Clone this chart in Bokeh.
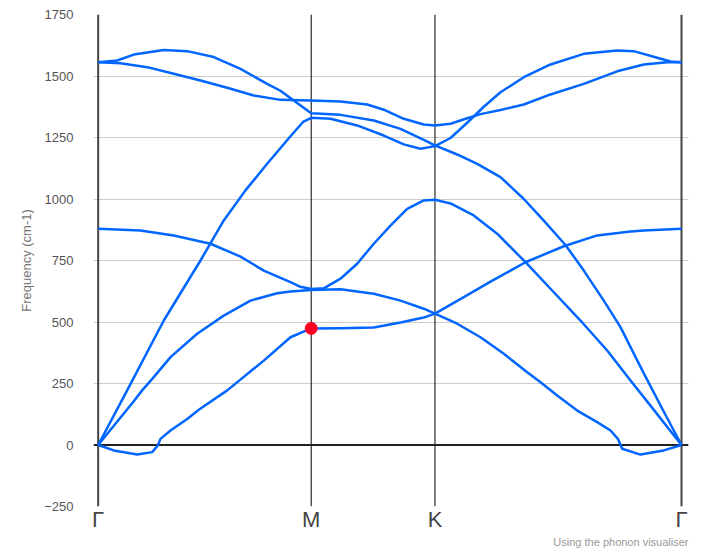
from bokeh.plotting import figure
from bokeh.models import FixedTicker, Span, Title, Range1d
from bokeh.embed import file_html
from bokeh.resources import INLINE

# High-symmetry points along the path (normalised path distance)
sym_labels = ["Γ", "M", "K", "Γ"]
sym_pos = [0.0, 0.3652, 0.5774, 1.0]
y_ticks = [-250, 0, 250, 500, 750, 1000, 1250, 1500, 1750]

# Phonon branches (path distance, frequency in cm-1)
band1_q = [0.0, 0.0267, 0.0669, 0.0926, 0.1022, 0.1068, 0.1240, 0.1526, 0.1725, 0.2212,
           0.2839, 0.3297, 0.3652, 0.4154, 0.4725, 0.5183, 0.5582, 0.5774, 0.6268, 0.6726,
           0.7326, 0.7982, 0.8555, 0.9126, 0.9354, 1.0]
band1_f = [0, -22, -39, -29, -2, 25, 59, 106, 143, 222,
           343, 438, 474, 475, 478, 498, 518, 534, 601, 664,
           743, 808, 852, 868, 872, 879]

band2_q = [0.0, 0.0610, 0.0754, 0.0953, 0.1240, 0.1697, 0.2153, 0.2611, 0.3069, 0.3297,
           0.3652, 0.4154, 0.4725, 0.5183, 0.5582, 0.5774, 0.6155, 0.6554, 0.6954, 0.7355,
           0.7583, 0.7869, 0.8212, 0.8555, 0.8783, 0.8910, 0.8983, 0.9297, 0.9697, 1.0]
band2_f = [0, 178, 222, 276, 357, 452, 526, 587, 617, 624,
           630, 633, 615, 587, 554, 534, 493, 438, 371, 296,
           255, 201, 140, 93, 59, 25, -15, -39, -22, 0]

band3_q = [0.0, 0.0725, 0.1296, 0.1925, 0.2440, 0.2839, 0.3297, 0.3468, 0.3652, 0.3868,
           0.4154, 0.4440, 0.4725, 0.5011, 0.5297, 0.5582, 0.5774, 0.6040, 0.6439, 0.6840,
           0.7326, 0.7811, 0.8268, 0.8726, 0.9126, 0.9468, 1.0]
band3_f = [879, 872, 852, 818, 766, 709, 662, 643, 634, 637,
           676, 737, 818, 892, 960, 994, 997, 982, 933, 859,
           743, 621, 506, 384, 262, 160, 0]

band4_q = [0.0, 0.0497, 0.1125, 0.1754, 0.2153, 0.2525, 0.2897, 0.3297, 0.3520, 0.3652,
           0.3983, 0.4440, 0.4896, 0.5239, 0.5526, 0.5774, 0.6040, 0.6326, 0.6611, 0.6897,
           0.7297, 0.7754, 0.8325, 0.8898, 0.9182, 0.9583, 0.9812, 1.0]
band4_f = [0, 222, 506, 750, 913, 1035, 1143, 1255, 1315, 1330,
           1326, 1299, 1258, 1222, 1204, 1215, 1248, 1310, 1375, 1434,
           1495, 1547, 1590, 1604, 1601, 1574, 1559, 1556]

band5_q = [0.0, 0.0326, 0.0610, 0.1125, 0.1526, 0.1982, 0.2440, 0.2897, 0.3125, 0.3353,
           0.3652, 0.4154, 0.4725, 0.5183, 0.5582, 0.5774, 0.6155, 0.6498, 0.6897, 0.7297,
           0.7639, 0.8011, 0.8325, 0.8668, 0.8954, 0.9126, 0.9354, 0.9697, 1.0]
band5_f = [1556, 1563, 1587, 1606, 1601, 1577, 1529, 1468, 1440, 1400,
           1349, 1342, 1319, 1285, 1240, 1218, 1181, 1143, 1089, 1000,
           912, 813, 709, 587, 479, 398, 291, 135, 0]

band6_q = [0.0, 0.0382, 0.0840, 0.1296, 0.1754, 0.2212, 0.2668, 0.3125, 0.3652, 0.4154,
           0.4612, 0.4896, 0.5239, 0.5582, 0.5774, 0.6040, 0.6326, 0.6554, 0.6897, 0.7297,
           0.7754, 0.8325, 0.8898, 0.9354, 0.9755, 1.0]
band6_f = [1556, 1552, 1536, 1509, 1482, 1452, 1421, 1403, 1400, 1396,
           1384, 1363, 1326, 1303, 1299, 1306, 1328, 1345, 1362, 1384,
           1425, 1468, 1519, 1547, 1556, 1556]

highlight_q = [0.3652]
highlight_f = [474]

FONT = "Liberation Sans"

xr = Range1d(-0.008, 1.012)
yr = Range1d(-250, 1750)
p = figure(width=698, height=548, x_range=xr, y_range=yr,
           output_backend="svg", toolbar_location=None,
           min_border_left=93, min_border_right=10, min_border_top=14, min_border_bottom=42)
p.outline_line_color = None
p.background_fill_color = "white"
p.border_fill_color = "white"

# grids
p.xgrid.visible = False
p.yaxis.ticker = FixedTicker(ticks=y_ticks)
p.ygrid.grid_line_color = "#cccccc"
p.ygrid.grid_line_width = 1.2

# x axis with symmetry labels
p.xaxis.ticker = FixedTicker(ticks=sym_pos)
p.xaxis.major_label_overrides = {pos: lab for pos, lab in zip(sym_pos, sym_labels)}
p.xaxis.axis_line_color = None
p.xaxis.major_tick_line_color = None
p.xaxis.minor_tick_line_color = None
p.xaxis.major_label_text_font = FONT
p.xaxis.major_label_text_font_size = "22px"
p.xaxis.major_label_text_color = "#444444"
p.xaxis.major_label_standoff = -6

# y axis
p.yaxis.axis_line_color = None
p.yaxis.major_tick_line_color = None
p.yaxis.minor_tick_line_color = None
p.yaxis.major_label_text_font = FONT
p.yaxis.major_label_text_font_size = "13px"
p.yaxis.major_label_text_color = "#555555"
p.yaxis.major_label_standoff = 14
p.yaxis.axis_label = "Frequency (cm-1)"
p.yaxis.axis_label_text_font = FONT
p.yaxis.axis_label_text_font_size = "13px"
p.yaxis.axis_label_text_font_style = "normal"
p.yaxis.axis_label_text_color = "#777777"
p.yaxis.axis_label_standoff = 7

# vertical lines at symmetry points
for i, pos in enumerate(sym_pos):
    edge = i == 0 or i == len(sym_pos) - 1
    p.add_layout(Span(location=pos, dimension="height",
                      line_color="#444444" if edge else "#000000",
                      line_width=2 if edge else 1, level="underlay"))
# baseline at zero
p.add_layout(Span(location=y_ticks[1], dimension="width", line_color="#222222",
                  line_width=2, level="underlay"))

for q, f in [(band1_q, band1_f), (band2_q, band2_f), (band3_q, band3_f),
             (band4_q, band4_f), (band5_q, band5_f), (band6_q, band6_f)]:
    p.line(q, f, line_color="#0066ff", line_width=2.5, line_join="round")

p.scatter(highlight_q, highlight_f, size=12, fill_color="#ff0022", line_color="#ff0022")

# footer note below the axis, right-aligned with the frame
p.add_layout(Title(text="Using the phonon visualiser", align="right",
                   text_font=FONT, text_font_size="11px", text_color="#999999",
                   text_font_style="normal", standoff=-2), "below")

open("out.html", "w").write(file_html(p, INLINE))
